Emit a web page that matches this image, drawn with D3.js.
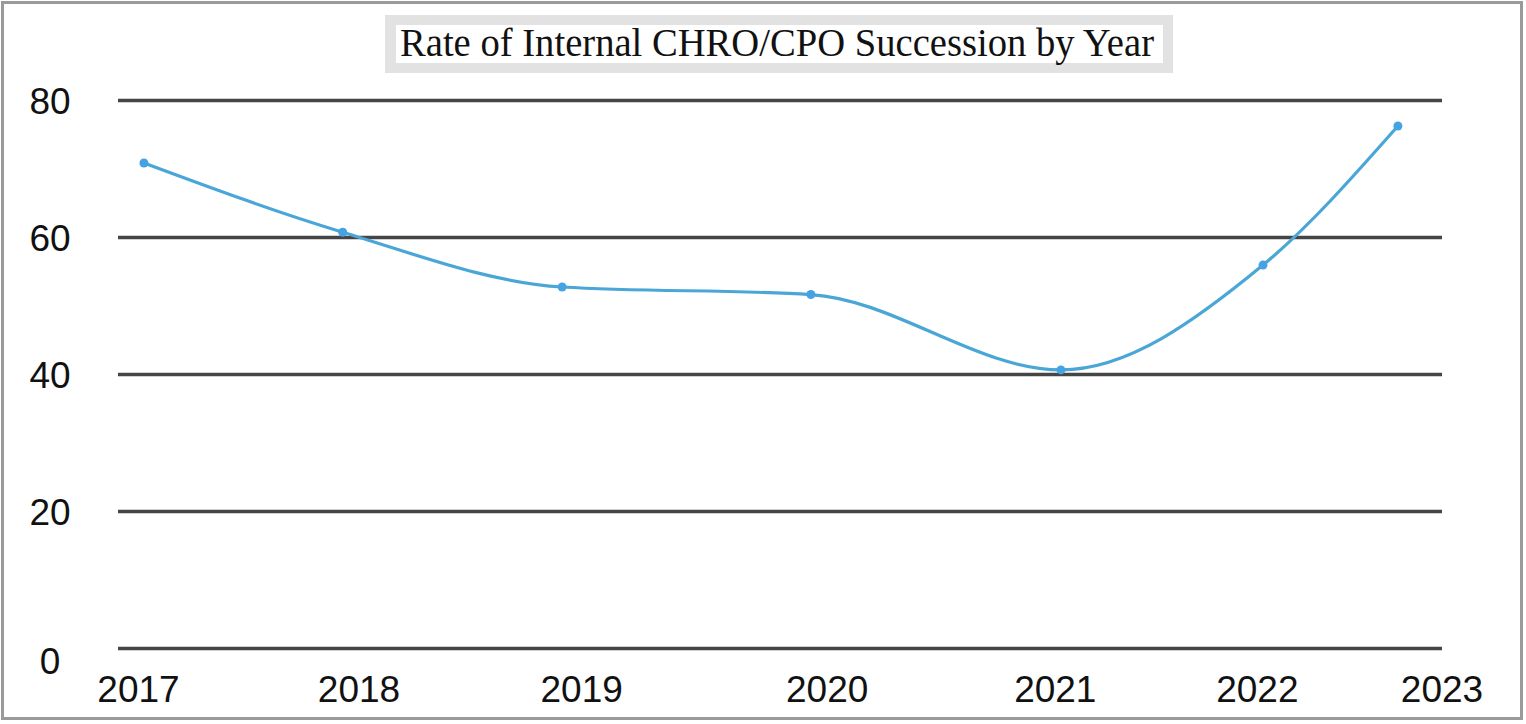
<!DOCTYPE html>
<html>
<head>
<meta charset="utf-8">
<script src="https://cdn.jsdelivr.net/npm/d3@7"></script>
<style>
  html, body { margin: 0; padding: 0; background: #fff; }
  svg { display: block; }
</style>
</head>
<body>
<svg id="chart" width="1526" height="724"></svg>
<script>
// ---- data ----
const title = "Rate of Internal CHRO/CPO Succession by Year";
const years = ["2017", "2018", "2019", "2020", "2021", "2022", "2023"];
// horizontal position of each year label, in year units
const yearLabelAt = [2017, 2018.015, 2019.04, 2020.17, 2021.22, 2022.15, 2023];
// horizontal position of each data point, in year units
const pointAt = [2017.025, 2017.94, 2018.95, 2020.095, 2021.246, 2022.176, 2022.797];
const rates = [70.8, 60.7, 52.7, 51.6, 40.6, 55.9, 76.2];
const yTicks = [0, 20, 40, 60, 80];

// ---- drawing ----
const svg = d3.select("#chart");

const x = d3.scaleLinear().domain([2017, 2023]).range([138.5, 1442]);
const y = d3.scaleLinear().domain([0, 80]).range([648, 100]);
const gridX0 = 118, gridX1 = 1442;

// outer frame
svg.append("rect")
  .attr("x", 2.5).attr("y", 2.5)
  .attr("width", 1519).attr("height", 716)
  .attr("fill", "#fff")
  .attr("stroke", "#9a9a9a").attr("stroke-width", 3);

// title box
svg.append("rect")
  .attr("x", 385).attr("y", 15).attr("width", 788).attr("height", 58)
  .attr("fill", "#e2e2e2");
svg.append("rect")
  .attr("x", 396).attr("y", 25).attr("width", 767).attr("height", 38)
  .attr("fill", "#fff");
svg.append("text")
  .attr("x", 400).attr("y", 56)
  .attr("font-family", "'Liberation Serif', 'DejaVu Serif', serif")
  .attr("font-size", 39)
  .attr("fill", "#111")
  .attr("textLength", 754)
  .attr("lengthAdjust", "spacingAndGlyphs")
  .text(title);

// gridlines via axis
const yAxis = d3.axisLeft(y).tickValues(yTicks).tickSize(-(gridX1 - gridX0)).tickFormat(d => d);
const gy = svg.append("g").attr("transform", `translate(${gridX0},0)`).call(yAxis);
gy.select(".domain").remove();
gy.selectAll(".tick line")
  .attr("stroke", "#454545").attr("stroke-width", 3.5);
gy.selectAll(".tick text")
  .attr("x", 50 - gridX0)
  .attr("text-anchor", "middle")
  .attr("dy", "0.36em")
  .attr("font-family", "'Liberation Sans', Arial, sans-serif")
  .attr("font-size", 37)
  .attr("fill", "#111");
// "0" label sits a little lower in the reference
gy.selectAll(".tick text").filter(d => d === 0).attr("dy", "0.68em");

// x labels
svg.append("g").selectAll("text")
  .data(years)
  .join("text")
  .attr("x", (d, i) => x(yearLabelAt[i]))
  .attr("y", 702)
  .attr("text-anchor", "middle")
  .attr("font-family", "'Liberation Sans', Arial, sans-serif")
  .attr("font-size", 37)
  .attr("fill", "#111")
  .text(d => d);

// line
const pts = rates.map((v, i) => [x(pointAt[i]), y(v)]);
const line = d3.line().curve(d3.curveMonotoneX);
svg.append("path")
  .attr("d", line(pts))
  .attr("fill", "none")
  .attr("stroke", "#4aa6d6")
  .attr("stroke-width", 3.2)
  .attr("stroke-linecap", "round");

svg.append("g").selectAll("circle")
  .data(pts)
  .join("circle")
  .attr("cx", d => d[0]).attr("cy", d => d[1])
  .attr("r", 4.5)
  .attr("fill", "#45a3e3");
</script>
</body>
</html>
